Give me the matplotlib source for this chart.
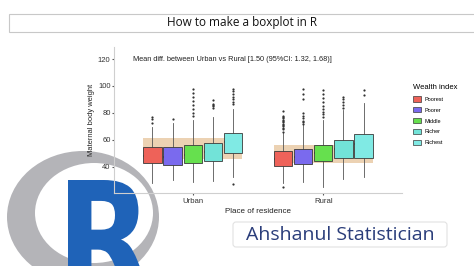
import numpy as np
import matplotlib.pyplot as plt
from matplotlib.patches import Rectangle, Ellipse, FancyBboxPatch, Patch, PathPatch
from matplotlib.textpath import TextPath
from matplotlib.font_manager import FontProperties
from matplotlib.transforms import Affine2D

plt.rcParams['font.family'] = ['Liberation Sans', 'DejaVu Sans']

groups = ['Urban', 'Rural']
wealth = ['Poorest', 'Poorer', 'Middle', 'Richer', 'Richest']
colors = ['#EE6259', '#7A6AEE', '#66E04E', '#72E3D8', '#80EAE4']

# box statistics (Urban, then Rural)
urban_q1 = [42.7, 41.6, 43.2, 44.7, 50.1]
urban_med = [48.1, 47.2, 48.9, 50.9, 58.5]
urban_q3 = [54.7, 54.5, 56.0, 58.0, 65.4]
urban_lo = [28.0, 30.4, 28.7, 29.4, 32.8]
urban_hi = [69.4, 72.8, 75.0, 76.8, 82.7]
urban_out = [[72.8, 75.3, 76.8],
             [75.5],
             [78, 80, 83, 86, 89, 92, 95, 98],
             [84, 85, 86, 87, 89.6],
             [27.4, 87, 88, 90, 92, 94, 96, 98]]

rural_q1 = [40.7, 42.2, 44.4, 46.9, 46.4]
rural_med = [46.2, 47.2, 50.1, 53.3, 57.0]
rural_q3 = [51.9, 53.3, 56.3, 60.0, 64.4]
rural_lo = [28.0, 29.1, 25.4, 31.1, 32.8]
rural_hi = [65.0, 71.0, 75.0, 82.2, 87.2]
rural_out = [[25.4, 66, 68, 69, 70, 71, 72, 73, 74, 75, 76, 77, 78, 81.5],
             [72, 73, 74, 76, 78, 80, 90, 94, 97.5],
             [77, 79, 81, 83, 85, 88, 91, 94, 97],
             [84, 86, 88, 90, 92],
             [93.3, 97]]

# shaded band per group
band_lo = [45.7, 43.2]
band_hi = [61.2, 56.3]

annot = 'Mean diff. between Urban vs Rural [1.50 (95%CI: 1.32, 1.68)]'

fig = plt.figure(figsize=(4.74, 2.66), dpi=100)

# background layer in pixel units: title box, R logo, signature
bg = fig.add_axes([0, 0, 1, 1], zorder=0)
bg.set_xlim(0, 474)
bg.set_ylim(0, 266)
bg.axis('off')

bg.add_patch(Rectangle((9, 266 - 32), 480, 18, fc='white', ec='#c8c8c8', lw=0.8))
bg.text(242, 266 - 22.5, 'How to make a boxplot in R', ha='center', va='center',
        fontsize=8.5, family='Open Sans', color='#111111')

# R logo
bg.add_patch(Ellipse((83, 266 - 217), 152, 132, fc='#b4b4b8', ec='none'))
bg.add_patch(Ellipse((94, 266 - 213), 118, 100, fc='white', ec='none'))
tp = TextPath((0, 0), 'R', size=1, prop=FontProperties(family='DejaVu Sans', weight='bold'))
ext = tp.get_extents()
sx = 82 / ext.width
sy = 112 / ext.height
tr = Affine2D().translate(-ext.x0, -ext.y1).scale(sx, sy).translate(68, 266 - 180)
bg.add_patch(PathPatch(tr.transform_path(tp), fc='#1F63B8', ec='none'))

bg.add_patch(FancyBboxPatch((233, 266 - 247), 214, 25, boxstyle='round,pad=0,rounding_size=3',
                            fc='white', ec='#e2e2e2', lw=0.8))
bg.text(340, 266 - 235, 'Ahshanul Statistician', ha='center', va='center',
        fontsize=14, family='Open Sans', color='#2A3D7A')

# the boxplot
ax = fig.add_axes([114 / 474, 1 - 193 / 266, 288 / 474, 146 / 266], zorder=2)
ax.patch.set_alpha(0)

offs = 0.153
stats, pos, fcs = [], [], []
for gi, (q1, med, q3, lo, hi, out) in enumerate([
        (urban_q1, urban_med, urban_q3, urban_lo, urban_hi, urban_out),
        (rural_q1, rural_med, rural_q3, rural_lo, rural_hi, rural_out)]):
    ax.add_patch(Rectangle((gi + 1 - 0.38, band_lo[gi]), 0.76, band_hi[gi] - band_lo[gi],
                           fc='#E9CBA6', ec='none', alpha=0.85, zorder=1))
    for li in range(len(wealth)):
        stats.append(dict(med=med[li], q1=q1[li], q3=q3[li], whislo=lo[li], whishi=hi[li],
                          fliers=out[li]))
        pos.append(gi + 1 + (li - 2) * offs)
        fcs.append(colors[li])

bp = ax.bxp(stats, positions=pos, widths=0.138, patch_artist=True, showcaps=False,
            boxprops=dict(ec='#3a3a3a', lw=0.6),
            medianprops=dict(color='#1a1a1a', lw=1.1),
            whiskerprops=dict(color='#555555', lw=0.6),
            flierprops=dict(marker='o', ms=1.6, mfc='#333333', mec='none'))
for b, c in zip(bp['boxes'], fcs):
    b.set_facecolor(c)
    b.set_zorder(3)

ax.set_xlim(0.4, 2.6)
ax.set_ylim(20.7, 128.9)
ax.set_xticks([1, 2])
ax.set_xticklabels(groups, fontsize=5.6)
ax.set_yticks([40, 60, 80, 100, 120])
ax.tick_params(axis='y', labelsize=5.5, length=1.5, pad=1, colors='#555555', labelcolor='#333333')
ax.tick_params(axis='x', length=1.5, pad=2, colors='#555555', labelcolor='#333333')
for s in ['top', 'right']:
    ax.spines[s].set_visible(False)
for s in ['left', 'bottom']:
    ax.spines[s].set_color('#cfcfcf')
    ax.spines[s].set_linewidth(0.8)
ax.set_ylabel('Maternal body weight', fontsize=5.4, labelpad=2, color='#222222')
ax.set_xlabel('Place of residence', fontsize=5.8, labelpad=2, color='#222222')
ax.text(0.545, 120, annot, fontsize=5.3, color='#222222', va='center')

handles = [Patch(fc=c, ec='#3a3a3a', lw=0.5) for c in colors]
leg = fig.legend(handles, wealth, title='Wealth index', loc='upper left',
                 bbox_to_anchor=(408 / 474, 1 - 79 / 266), frameon=False,
                 fontsize=4, title_fontsize=5.5, handlelength=1.4, handleheight=1.1,
                 labelspacing=0.95, handletextpad=0.6, alignment='left')

fig.savefig('out.png', dpi=100)
